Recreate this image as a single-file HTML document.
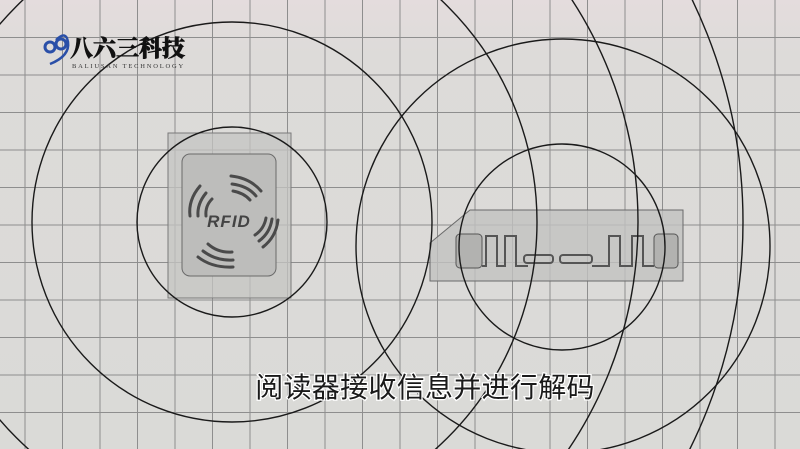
<!DOCTYPE html>
<html><head><meta charset="utf-8"><style>
html,body{margin:0;padding:0;width:800px;height:449px;overflow:hidden;background:#dcdcd9}
svg{display:block}
</style></head><body>
<svg width="800" height="449" viewBox="0 0 800 449" xmlns="http://www.w3.org/2000/svg">
<defs>
<linearGradient id="bg" x1="0" y1="0" x2="0" y2="1">
<stop offset="0" stop-color="#e4dcdd"/><stop offset="0.12" stop-color="#dddbd9"/><stop offset="1" stop-color="#dadad7"/>
</linearGradient>
<clipPath id="tagclip"><polygon points="470,210 683,210 683,281 430,281 430,243"/></clipPath>
</defs>
<rect width="800" height="449" fill="url(#bg)"/>
<g stroke="#8e8e8e" stroke-width="1">
<line x1="25" y1="0" x2="25" y2="449"/><line x1="62.5" y1="0" x2="62.5" y2="449"/><line x1="100" y1="0" x2="100" y2="449"/><line x1="137.5" y1="0" x2="137.5" y2="449"/><line x1="175" y1="0" x2="175" y2="449"/><line x1="212.5" y1="0" x2="212.5" y2="449"/><line x1="250" y1="0" x2="250" y2="449"/><line x1="287.5" y1="0" x2="287.5" y2="449"/><line x1="325" y1="0" x2="325" y2="449"/><line x1="362.5" y1="0" x2="362.5" y2="449"/><line x1="400" y1="0" x2="400" y2="449"/><line x1="437.5" y1="0" x2="437.5" y2="449"/><line x1="475" y1="0" x2="475" y2="449"/><line x1="512.5" y1="0" x2="512.5" y2="449"/><line x1="550" y1="0" x2="550" y2="449"/><line x1="587.5" y1="0" x2="587.5" y2="449"/><line x1="625" y1="0" x2="625" y2="449"/><line x1="662.5" y1="0" x2="662.5" y2="449"/><line x1="700" y1="0" x2="700" y2="449"/><line x1="737.5" y1="0" x2="737.5" y2="449"/><line x1="775" y1="0" x2="775" y2="449"/>
<line x1="0" y1="37.5" x2="800" y2="37.5"/><line x1="0" y1="75" x2="800" y2="75"/><line x1="0" y1="112.5" x2="800" y2="112.5"/><line x1="0" y1="150" x2="800" y2="150"/><line x1="0" y1="187.5" x2="800" y2="187.5"/><line x1="0" y1="225" x2="800" y2="225"/><line x1="0" y1="262.5" x2="800" y2="262.5"/><line x1="0" y1="300" x2="800" y2="300"/><line x1="0" y1="337.5" x2="800" y2="337.5"/><line x1="0" y1="375" x2="800" y2="375"/><line x1="0" y1="412.5" x2="800" y2="412.5"/>
</g>
<!-- reader -->
<rect x="168" y="133" width="123" height="165" fill="#c4c4c2" fill-opacity="0.75" stroke="#7a7a7a" stroke-width="1"/>
<rect x="182" y="154" width="94" height="122" rx="8" fill="#bdbdbb" stroke="#6a6a6a" stroke-width="1"/>
<g fill="none" stroke="#4a4a4a" stroke-width="3" stroke-linecap="round">
<path d="M231,176 Q250,178 261,191"/><path d="M232,184 Q248,186 256,196"/><path d="M233,191 Q244,193 250,200"/>
<path d="M200,186 Q188,200 190,216"/><path d="M206,193 Q197,204 198,216"/><path d="M212,199 Q205,206 206,216"/>
<path d="M208,244 Q218,253 232,252"/><path d="M203,251 Q216,261 233,260"/><path d="M198,257 Q212,268 233,267"/>
<path d="M255,235 Q264,229 266,218"/><path d="M259,241 Q270,233 272,219"/><path d="M263,247 Q276,237 278,220"/>
</g>
<text x="229" y="227" font-family="Liberation Sans, sans-serif" font-weight="bold" font-style="italic" font-size="17" fill="#444" text-anchor="middle" letter-spacing="1">RFID</text>
<!-- tag -->
<polygon points="470,210 683,210 683,281 430,281 430,243" fill="#c2c2c0" fill-opacity="0.8" stroke="#6a6a6a" stroke-width="1"/>
<g clip-path="url(#tagclip)" fill="none" stroke="#555" stroke-width="2">
<rect x="456" y="234" width="26" height="34" rx="4" fill="#b2b2b0" stroke-width="1"/>
<rect x="654" y="234" width="24" height="34" rx="4" fill="#b2b2b0" stroke-width="1"/>
<path d="M482,266 L486,266 L486,236 L497,236 L497,266 L505,266 L505,236 L516,236 L516,266 L528,266"/>
<rect x="524" y="255" width="29" height="8" rx="3"/>
<rect x="560" y="255" width="32" height="8" rx="3"/>
<path d="M592,266 L609,266 L609,236 L620,236 L620,266 L632,266 L632,236 L643,236 L643,266 L654,266"/>
</g>
<!-- circles -->
<g fill="none" stroke="#1a1a1a" stroke-width="1.4">
<circle cx="232" cy="222" r="95"/>
<circle cx="232" cy="222" r="200"/>
<circle cx="232" cy="222" r="305"/>
<circle cx="232" cy="222" r="406"/>
<circle cx="232" cy="222" r="511"/>
<circle cx="562" cy="247" r="103"/>
<circle cx="563" cy="246" r="207"/>
</g>
<!-- logo -->
<g fill="none" stroke="#2a4fa8" stroke-width="3">
<circle cx="50" cy="47" r="5"/><circle cx="61" cy="44" r="5"/>
<path d="M56,40 Q66,30 68,42 Q70,56 50,64" stroke-width="2.5"/>
</g>
<text x="70" y="56" font-family="Liberation Serif, 'Noto Serif CJK SC', serif" font-weight="900" font-size="23" fill="#111" stroke="#111" stroke-width="0.6">八六三科技</text>
<text x="72" y="68" font-family="Liberation Serif, serif" font-size="6.5" fill="#333" letter-spacing="1.8">BALIUSAN TECHNOLOGY</text>
<!-- caption -->
<text x="425" y="397" text-anchor="middle" font-family="Liberation Sans, 'Noto Sans CJK SC', sans-serif" font-size="28" fill="#1a1a1a" stroke="#ffffff" stroke-width="2.5" paint-order="stroke" letter-spacing="0.3">阅读器接收信息并进行解码</text>
</svg>
</body></html>
